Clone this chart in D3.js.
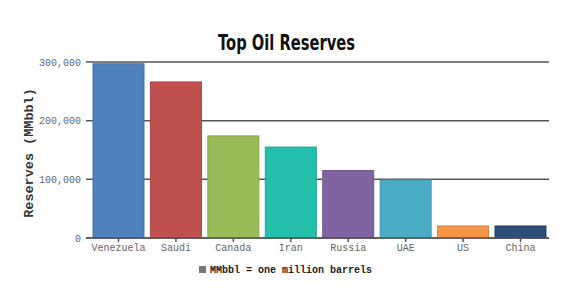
<!DOCTYPE html>
<html><head><meta charset="utf-8">
<script src="https://cdn.jsdelivr.net/npm/d3@7"></script>
<style>body{margin:0;background:#fff}</style>
</head><body>
<svg id="c" width="587" height="288"></svg>
<script>
const categories = ["Venezuela","Saudi","Canada","Iran","Russia","UAE","US","China"];
const reserves = [297000, 266000, 174000, 155000, 115000, 99000, 20500, 20500];
const colors = ["#4F81BD","#C0504D","#9BBB59","#23BFAA","#8064A2","#4BACC6","#F79646","#2C4D75"];
const yTicks = [0, 100000, 200000, 300000];

const svg = d3.select("#c");
const m = {l:86, r:549, t:62, b:238};
const x = d3.scaleBand().domain(categories).range([93, 546]).paddingInner(0.112).paddingOuter(0);
const y = d3.scaleLinear().domain([0, 300000]).range([m.b, m.t]);
const mono = "'Courier New','Liberation Mono',monospace";

// gridlines
svg.append("g").selectAll("line").data(yTicks).join("line")
  .attr("x1", m.l).attr("x2", m.r)
  .attr("y1", d=>y(d)).attr("y2", d=>y(d))
  .attr("stroke", "#555").attr("stroke-width", 1.5);

// bars
svg.append("g").selectAll("rect").data(categories).join("rect")
  .attr("x", d=>x(d)).attr("width", x.bandwidth())
  .attr("y", (d,i)=>y(reserves[i])).attr("height", (d,i)=>y(0)-y(reserves[i]))
  .attr("fill", (d,i)=>colors[i])
  .attr("stroke", (d,i)=>d3.color(colors[i]).darker(0.4)).attr("stroke-width", 1);

// baseline
svg.append("line").attr("x1", m.l).attr("x2", m.r).attr("y1", y(0)).attr("y2", y(0))
  .attr("stroke", "#555").attr("stroke-width", 1.5);

// y axis labels
const ya = svg.append("g").attr("transform", `translate(${m.l},0)`)
  .call(d3.axisLeft(y).tickValues(yTicks).tickFormat(d3.format(",")).tickSize(0).tickPadding(5));
ya.select(".domain").remove();
ya.selectAll("text").attr("font-family", mono).attr("font-size", 10).attr("fill", "#666");

// x axis
const xa = svg.append("g").attr("transform", `translate(0,${m.b})`)
  .call(d3.axisBottom(x).tickSize(4).tickPadding(2));
xa.select(".domain").remove();
xa.selectAll("line").attr("stroke", "#555").attr("stroke-width", 1.5);
xa.selectAll("text").attr("font-family", mono).attr("font-size", 10).attr("fill", "#666");

// title
svg.append("text").attr("x", 218).attr("y", 50)
  .attr("font-family", "Impact,'DejaVu Sans',sans-serif")
  .attr("font-weight", "bold").attr("font-size", 22).attr("fill", "#111")
  .attr("textLength", 137).attr("lengthAdjust", "spacingAndGlyphs")
  .text("Top Oil Reserves");

// y title
svg.append("text").attr("transform", "translate(33,153) rotate(-90)").attr("text-anchor", "middle")
  .attr("font-family", mono).attr("font-weight", "bold").attr("font-size", 13.5).attr("fill", "#333")
  .text("Reserves (MMbbl)");

// legend
svg.append("rect").attr("x", 199).attr("y", 266).attr("width", 7).attr("height", 7).attr("fill", "#777");
svg.append("text").attr("x", 210).attr("y", 273)
  .attr("font-family", mono).attr("font-weight", "bold").attr("font-size", 10).attr("fill", "#222")
  .text("MMbbl = one million barrels");
</script>
</body></html>
